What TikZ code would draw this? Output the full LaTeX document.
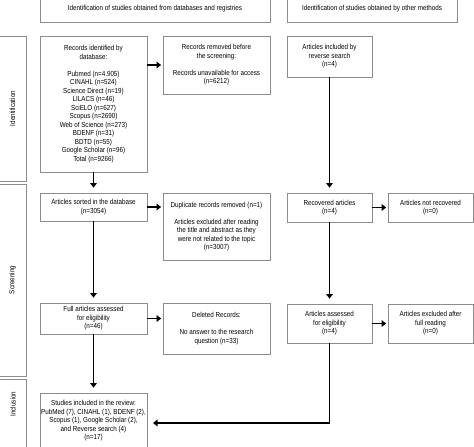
\documentclass[tikz,border=0pt]{standalone}
\usepackage{fontspec}
\setmainfont{Liberation Sans}[FakeStretch=0.86]
\usetikzlibrary{arrows.meta}
\begin{document}
\begin{tikzpicture}[x=1pt,y=-1pt,
  box/.style={draw=black!45, line width=0.7pt, align=center, inner sep=0pt,
    font=\fontsize{7.3}{8.5}\selectfont},
  lbl/.style={rotate=90, inner sep=0pt, font=\fontsize{7.3}{8.5}\selectfont},
  arr/.style={line width=1.8pt, -{Triangle[length=4.5pt,width=6.5pt]}},
  varr/.style={arr, shorten >=5pt},
  harr/.style={arr, shorten >=1.5pt},
]
\useasboundingbox (0,0) rectangle (474,447);
\clip (0,0) rectangle (474,447);

% header boxes
\node[box, minimum width=230pt, minimum height=26pt] (head1) at (155,9)
  {Identification of studies obtained from databases and registries};
\node[box, minimum width=170pt, minimum height=26pt] (head2) at (372,9)
  {Identification of studies obtained by other methods};

% side boxes
\node[box, lbl, minimum width=145pt, minimum height=27pt] (ident) at (12.5,108.5) {Identification};
\node[box, lbl, minimum width=192pt, minimum height=27pt] (screen) at (12.5,280) {Screening};
\node[box, minimum width=27pt, minimum height=80pt] (incl) at (12.5,419) {};
\node[lbl] (incltext) at (13,404) {Inclusion};

% identification row
\node[box, minimum width=107pt, minimum height=136pt] (records) at (93.5,104)
  {Records identified by\\database:\\[8.5pt]
   Pubmed (n=4.905)\\CINAHL (n=524)\\Science Direct (n=19)\\LILACS (n=46)\\
   SciELO (n=627)\\Scopus (n=2690)\\Web of Science (n=273)\\BDENF (n=31)\\
   BDTD (n=55)\\Google Scholar (n=96)\\Total (n=9266)};
\node[box, minimum width=107pt, minimum height=58pt] (removed) at (216.5,65)
  {Records removed before\\the screening:\\[8.5pt]
   Records unavailable for access\\(n=6212)};
\node[box, minimum width=85pt, minimum height=41pt] (reverse) at (329.5,56.5)
  {Articles included by\\reverse search\\(n=4)};

% screening row 1
\node[box, minimum width=107pt, minimum height=28pt] (sorted) at (93.5,207)
  {Articles sorted in the database\\(n=3054)};
\node[box, minimum width=107pt, minimum height=67pt] (dup) at (216.5,226.5)
  {Duplicate records removed (n=1)\\[8.5pt]
   Articles excluded after reading\\the title and abstract as they\\
   were not related to the topic\\(n=3007)};
\node[box, minimum width=85pt, minimum height=29pt] (recovered) at (329.5,207.5)
  {Recovered articles\\(n=4)};
\node[box, minimum width=85pt, minimum height=29pt] (notrec) at (430.5,207.5)
  {Articles not recovered\\(n=0)};

% screening row 2
\node[box, minimum width=107pt, minimum height=31pt] (full) at (93.5,318.5)
  {Full articles assessed\\for eligibility\\(n=46)};
\node[box, minimum width=107pt, minimum height=51pt] (deleted) at (216.5,328.5)
  {Deleted Records:\\[8.5pt]No answer to the research\\question (n=33)};
\node[box, minimum width=85pt, minimum height=39pt] (assessed) at (329.5,323.5)
  {Articles assessed\\for eligibility\\(n=4)};
\node[box, minimum width=85pt, minimum height=39pt] (excluded) at (430.5,323.5)
  {Articles excluded after\\full reading\\(n=0)};

% inclusion
\node[box, minimum width=107pt, minimum height=56pt] (studies) at (93.5,421)
  {Studies included in the review:\\PubMed (7), CINAHL (1), BDENF (2),\\
   Scopus (1), Google Scholar (2),\\and Reverse search (4)\\(n=17)};

% connectors
\draw[varr] (records.south) -- (sorted.north);
\draw[varr] (sorted.south) -- (full.north);
\draw[varr] (full.south) -- (studies.north);
\draw[varr] (reverse.south) -- (recovered.north);
\draw[varr] (recovered.south) -- (assessed.north);

\draw[harr] (records.east |- removed.west) -- (removed.west);
\draw[harr] (sorted.east) -- (sorted.east -| dup.west);
\draw[harr] (full.east) -- (full.east -| deleted.west);
\draw[harr] (recovered.east) -- (notrec.west);
\draw[harr] (assessed.east) -- (excluded.west);

\coordinate (tip) at (153,423);
\draw[arr] (assessed.south) |- (tip);
\end{tikzpicture}
\end{document}
